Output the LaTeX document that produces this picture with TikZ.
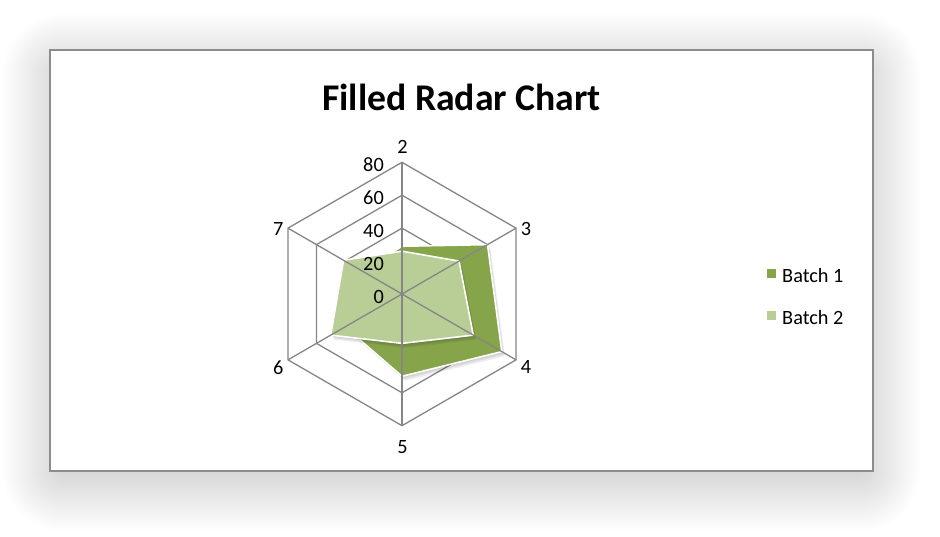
\documentclass[tikz,border=0pt]{standalone}
\usepackage{fontspec}
\setmainfont{Carlito}
\begin{document}
\begin{tikzpicture}[x=1pt,y=-1pt,
  gridline/.style={draw=gridc,line width=1.3pt,line join=miter},
  seriesone/.style={fill=bone,draw=white,line width=1.6pt,line join=round},
  seriestwo/.style={fill=btwo,draw=white,line width=1.6pt,line join=round},
  polyshadow/.style={fill=black,opacity=0.07},
  lbl/.style={inner sep=0pt,font=\fontsize{20.3}{24}\selectfont},
  ttl/.style={inner sep=0pt,font=\fontsize{37.7}{44}\selectfont\bfseries}]
\definecolor{gridc}{RGB}{134,134,134}
\definecolor{bone}{RGB}{134,164,74}
\definecolor{btwo}{RGB}{185,205,150}
\definecolor{framec}{RGB}{140,140,140}
\def\u{1.646}
\useasboundingbox (0,0) rectangle (940,537);
\fill[white] (0,0) rectangle (940,537);
% soft outer shadow
\foreach \i in {1,...,40}{
  \pgfmathsetmacro\s{1.5*\i}
  \fill[black,opacity=0.0035,rounded corners=\s pt] (62-\s,74-\s) rectangle (861+\s,471+\s);
}
% chart frame
\draw[draw=framec,line width=1.5pt,fill=white] (50,50) rectangle (873,471);
\node[ttl] (title) at (461.5,97) {Filled Radar Chart};
\begin{scope}[shift={(402,294)}]
  \coordinate (c) at (0,0);
  % rings
  \foreach \v in {20,40,60,80}{
    \draw[gridline] (-90:\v*\u) -- (-30:\v*\u) -- (30:\v*\u) -- (90:\v*\u) -- (150:\v*\u) -- (210:\v*\u) -- cycle;
  }
  % batch 1
  \foreach \dx/\dy in {1/1.5,2/3,3/4.5}{
    \fill[polyshadow,shift={(\dx,\dy)}] (-90:29*\u) -- (-30:60*\u) -- (30:70*\u) -- (90:50*\u) -- (150:40*\u) -- (210:28*\u) -- cycle;
  }
  \path[seriesone] (-90:29*\u) -- (-30:60*\u) -- (30:70*\u) -- (90:50*\u) -- (150:40*\u) -- (210:28*\u) -- cycle;
  % batch 2
  \foreach \dx/\dy in {1/1.5,2/3,3/4.5}{
    \fill[polyshadow,shift={(\dx,\dy)}] (-90:26*\u) -- (-30:40*\u) -- (30:50*\u) -- (90:30*\u) -- (150:50*\u) -- (210:41*\u) -- cycle;
  }
  \path[seriestwo] (-90:26*\u) -- (-30:40*\u) -- (30:50*\u) -- (90:30*\u) -- (150:50*\u) -- (210:41*\u) -- cycle;
  % spokes
  \foreach \a in {-90,-30,30,90,150,210}{
    \draw[gridline] (c) -- (\a:80*\u);
  }
\end{scope}
% value axis labels
\node[lbl,anchor=east] (v0) at (384,296.5) {0};
\node[lbl,anchor=east] (v20) at (384,263.6) {20};
\node[lbl,anchor=east] (v40) at (384,230.8) {40};
\node[lbl,anchor=east] (v60) at (384,197.9) {60};
\node[lbl,anchor=east] (v80) at (384,165) {80};
% category labels
\node[lbl] (k2) at (402.5,147.3) {2};
\node[lbl] (k3) at (526,229.3) {3};
\node[lbl] (k4) at (526,367.3) {4};
\node[lbl] (k5) at (402.5,446.7) {5};
\node[lbl] (k6) at (278.3,367.3) {6};
\node[lbl] (k7) at (278.3,229.3) {7};
% legend
\fill[bone] (767,269) rectangle (776,278);
\fill[btwo] (767,311) rectangle (776,320);
\node[lbl,anchor=west] (l1) at (782,275.5) {Batch 1};
\node[lbl,anchor=west] (l2) at (782,317.2) {Batch 2};
\end{tikzpicture}
\end{document}
